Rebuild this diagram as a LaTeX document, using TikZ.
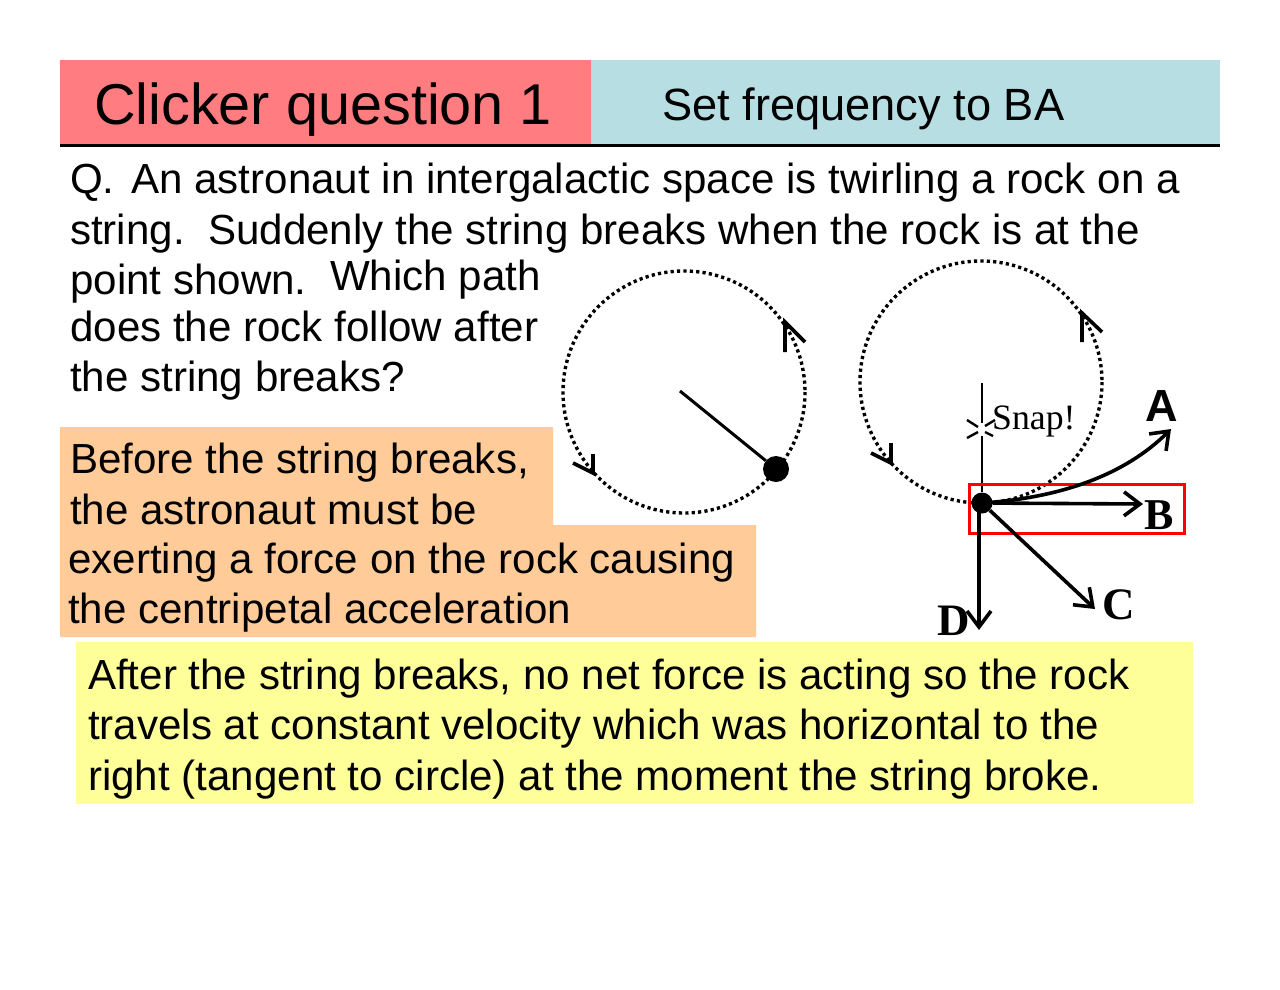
\documentclass[tikz,border=0pt]{standalone}
\usepackage{fontspec}
\setmainfont{Liberation Sans}
\newfontfamily\myTimes{Liberation Serif}
\usetikzlibrary{arrows.meta}
\definecolor{myRed}{HTML}{FF7C80}
\definecolor{myBlue}{HTML}{B7DFE3}
\definecolor{myOrange}{HTML}{FFCC99}
\definecolor{myYellow}{HTML}{FFFF99}
\tikzset{
	myText/.style={anchor=base west, inner sep=0pt, font=\fontsize{42.1}{42.1}\selectfont},
	myPath/.style={line width=3.4pt, dash pattern=on 3.2pt off 3.2pt},
	myRock/.style={circle, fill=black, inner sep=0pt},
	myBarb/.style={line width=3.6pt},
	myLetter/.style={anchor=base west, inner sep=0pt, font=\myTimes\bfseries\fontsize{45}{45}\selectfont},
	myArrow/.style={line width=3.6pt, -{Straight Barb[length=16pt,width=24pt]}}
}
\newcommand{\myLine}[4]{
	\node[myText] (#1) at (#2,#3) {#4};
}
\newcommand{\myHead}[3]{
	\draw[myBarb] (#2) -- (#1) -- (#3);
}
\begin{document}
\begin{tikzpicture}[x=1pt,y=-1pt]
	\useasboundingbox (0,0) rectangle (1280,989);
	\fill[white] (0,0) rectangle (1280,989);
	% boxes behind the text
	\fill[myRed] (60,60) rectangle (591,145);
	\fill[myBlue] (591,60) rectangle (1220,145);
	\draw[line width=3pt] (60,145) -- (1220,145);
	\fill[myOrange] (60,427) -- (553,427) -- (553,525) -- (756,525) -- (756,637) -- (60,637) -- cycle;
	\fill[myYellow] (76,642) rectangle (1193,804);

	\node[myText, font=\fontsize{57.6}{57.6}\selectfont] (title) at (94,124) {Clicker question 1};
	\node[myText, font=\fontsize{45.2}{45.2}\selectfont] (freq) at (662,120) {Set frequency to BA};

	\myLine{qa}{70}{193}{Q.\hspace{5pt} An astronaut in intergalactic space is twirling a rock on a}
	\myLine{qb}{70}{244}{string.\ \ Suddenly the string breaks when the rock is at the}
	\myLine{qc}{70}{294}{point shown.}
	\myLine{qd}{330}{290}{Which path}
	\myLine{qe}{70}{341}{does the rock follow after}
	\myLine{qf}{70}{391}{the string breaks?}

	\myLine{ba}{70}{473}{Before the string breaks,}
	\myLine{bb}{70}{524}{the astronaut must be}
	\myLine{bc}{68}{573}{exerting a force on the rock causing}
	\myLine{bd}{68}{623}{the centripetal acceleration}

	\myLine{aa}{88}{689}{After the string breaks, no net force is acting so the rock}
	\myLine{ab}{88}{739}{travels at constant velocity which was horizontal to the}
	\myLine{ac}{88}{790}{right (tangent to circle) at the moment the string broke.}

	% left circle
	\draw[myPath] (684,392) circle (121);
	\node[myRock, minimum size=26pt] (rockL) at (776,469) {};
	\coordinate (hubL) at (680,391);
	\draw[line width=3pt] (hubL) -- (rockL);
	\myHead{785,322}{785,352}{805,342}
	\myHead{593,473}{593,454}{573,463}

	% right circle
	\draw[myPath] (981,382) circle (121);
	\node[myRock, minimum size=21pt] (rockR) at (982,503) {};
	\myHead{1082,313}{1082,342}{1102,332}
	\myHead{891,463}{891,443}{871,453}

	% broken string
	\coordinate (hubR) at (982,383);
	\coordinate (snapT) at (982,423);
	\coordinate (snapB) at (982,436);
	\draw[line width=2.8pt] (hubR) -- (snapT);
	\draw[line width=2.8pt] (snapB) -- (rockR);
	\draw[line width=2.4pt] (967,420) -- (978,427);
	\draw[line width=2.4pt] (967,438) -- (978,432);
	\draw[line width=2.4pt] (985,432) -- (993,436);
	\draw[line width=2.4pt] (985,426) -- (995,420);
	\node[anchor=base west, inner sep=0pt, font=\myTimes\fontsize{35.7}{35.7}\selectfont] (snap) at (992,429) {Snap!};

	% the four paths
	\draw[red, line width=3pt] (969.5,484.5) rectangle (1184,533);
	\coordinate (endA) at (1171,429);
	\coordinate (endB) at (1143,504);
	\coordinate (endC) at (1095,609);
	\coordinate (endD) at (979,630);
	\draw[myArrow] (rockR.center) .. controls (1060,498) and (1125,475) .. (endA);
	\draw[myArrow] (rockR) -- (endB);
	\draw[myArrow] (rockR) -- (endC);
	\draw[myArrow] (979,510) -- (endD);
	\node[anchor=base west, inner sep=0pt, font=\bfseries\fontsize{45}{45}\selectfont] (labA) at (1145,421) {A};
	\node[myLetter, font=\myTimes\bfseries\fontsize{44}{44}\selectfont] (labB) at (1144,529) {B};
	\node[myLetter] (labC) at (1102,619) {C};
	\node[myLetter] (labD) at (937,635) {D};
\end{tikzpicture}
\end{document}
